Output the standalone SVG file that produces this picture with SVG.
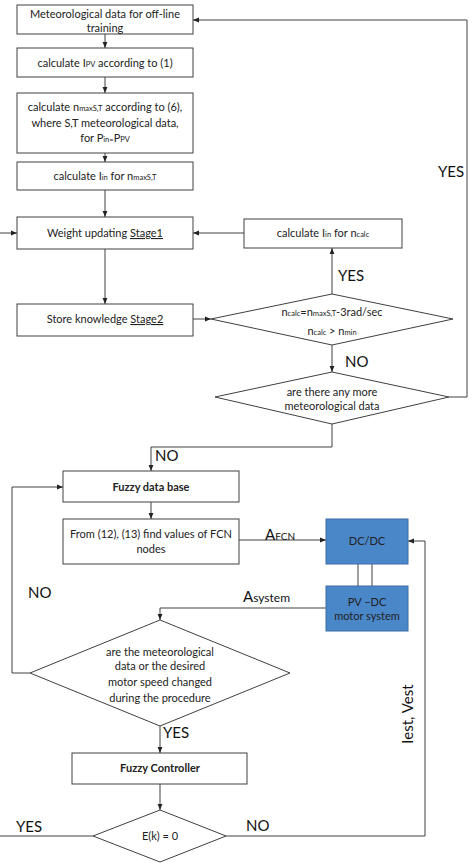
<svg xmlns="http://www.w3.org/2000/svg" width="474" height="863" viewBox="0 0 474 863">
<style>
.box{fill:#fff;stroke:#404040;stroke-width:1}
.blue{fill:#4a87c9;stroke:#3b6fa6;stroke-width:1}
.t{font-family:Lato,'Liberation Sans',sans-serif;font-size:11px;fill:#222;text-anchor:middle}
.b{font-weight:bold}
.s{font-size:7.5px}
.u{text-decoration:underline}
.lbl{font-family:Lato,'Liberation Sans',sans-serif;font-size:15px;fill:#111}
.ln{fill:none;stroke:#404040;stroke-width:1}
.ar{marker-end:url(#ah)}
</style>
<defs>
<marker id="ah" viewBox="0 0 10 10" refX="10" refY="5" markerWidth="6" markerHeight="6" orient="auto" markerUnits="userSpaceOnUse"><path d="M0,1 L10,5 L0,9 z" fill="#222"/></marker>
</defs>
<rect width="474" height="863" fill="#fff"/>
<g id="connectors">
<path class="ln ar" d="M105,34 V48"/>
<path class="ln ar" d="M105,77 V93"/>
<path class="ln ar" d="M105,153 V162"/>
<path class="ln ar" d="M105,190 V217"/>
<path class="ln ar" d="M0,233 H17"/>
<path class="ln ar" d="M105,249 V304"/>
<path class="ln ar" d="M244,233 H193"/>
<path class="ln ar" d="M193,319 H211"/>
<path class="ln ar" d="M332,294 V248"/>
<path class="ln ar" d="M332,345 V372"/>
<path class="ln ar" d="M449,397 H467 V20 H193"/>
<path class="ln ar" d="M332,424 V447 H151 V471"/>
<path class="ln ar" d="M151,502 V519"/>
<path class="ln ar" d="M239,540 H326"/>
<path class="ln" d="M358,564 V586 M372,564 V586"/>
<path class="ln ar" d="M326,608 H160 V620"/>
<path class="ln ar" d="M30,673 H12 V487 H63"/>
<path class="ln ar" d="M160,726 V753"/>
<path class="ln ar" d="M160,784 V810"/>
<path class="ln" d="M93,836 H0"/>
<path class="ln ar" d="M226,836 H425 V541 H408"/>
<text class="lbl" x="438" y="177">YES</text>
<text class="lbl" x="338" y="281">YES</text>
<text class="lbl" x="345" y="367">NO</text>
<text class="lbl" x="155" y="461">NO</text>
<text class="lbl" x="265" y="540">A<tspan font-size="10">FCN</tspan></text>
<text class="lbl" x="28" y="598">NO</text>
<text class="lbl" x="243" y="602">A<tspan font-size="12">system</tspan></text>
<text class="lbl" x="163" y="738">YES</text>
<text class="lbl" x="16" y="832">YES</text>
<text class="lbl" x="246" y="831">NO</text>
<text class="lbl" text-anchor="middle" transform="translate(413 714) rotate(-90)">Iest, Vest</text>
</g>
<g id="n1"><rect class="box" x="17" y="5" width="176" height="29"/><text class="t" x="105" y="18">Meteorological data for off-line</text><text class="t" x="105" y="32">training</text></g>
<g id="n2"><rect class="box" x="17" y="48" width="176" height="29"/><text class="t" x="105" y="67">calculate I<tspan class="s">PV</tspan> according to (1)</text></g>
<g id="n3"><rect class="box" x="17" y="93" width="176" height="60"/><text class="t" x="105" y="111">calculate n<tspan class="s">maxS,T</tspan> according to (6),</text><text class="t" x="105" y="127">where S,T meteorological data,</text><text class="t" x="105" y="142">for P<tspan class="s">in=</tspan>P<tspan class="s">PV</tspan></text></g>
<g id="n4"><rect class="box" x="17" y="162" width="176" height="28"/><text class="t" x="105" y="180">calculate I<tspan class="s">in</tspan> for n<tspan class="s">maxS,T</tspan></text></g>
<g id="n5"><rect class="box" x="17" y="217" width="176" height="32"/><text class="t" x="105" y="237">Weight updating <tspan class="u">Stage1</tspan></text></g>
<g id="n6"><rect class="box" x="244" y="219" width="158" height="29"/><text class="t" x="323" y="237">calculate I<tspan class="s">in</tspan> for n<tspan class="s">calc</tspan></text></g>
<g id="n7"><rect class="box" x="17" y="304" width="176" height="32"/><text class="t" x="105" y="323">Store knowledge <tspan class="u">Stage2</tspan></text></g>
<g id="n8"><polygon class="box" points="211,319 332,294 453,319 332,345"/><text class="t" x="332" y="316">n<tspan class="s">calc</tspan>=n<tspan class="s">maxS,T</tspan>-3rad/sec</text><text class="t" x="332" y="335">n<tspan class="s">calc</tspan> &gt; n<tspan class="s">min</tspan></text></g>
<g id="n9"><polygon class="box" points="215,397 332,372 449,397 332,424"/><text class="t" x="332" y="396">are there any more</text><text class="t" x="332" y="410">meteorological data</text></g>
<g id="n10"><rect class="box" x="63" y="471" width="176" height="31"/><text class="t b" x="151" y="491">Fuzzy data base</text></g>
<g id="n11"><rect class="box" x="63" y="519" width="176" height="45"/><text class="t" x="151" y="538">From  (12), (13) find values of FCN</text><text class="t" x="151" y="553">nodes</text></g>
<g id="n12"><rect class="blue" x="326" y="519" width="82" height="45"/><text class="t" x="367" y="545">DC/DC</text></g>
<g id="n13"><rect class="blue" x="326" y="586" width="82" height="45"/><text class="t" x="367" y="606">PV –DC</text><text class="t" x="367" y="620">motor  system</text></g>
<g id="n14"><polygon class="box" points="30,673 160,620 290,673 160,726"/><text class="t" x="160" y="656">are the meteorological</text><text class="t" x="160" y="670">data or the desired</text><text class="t" x="160" y="686">motor  speed changed</text><text class="t" x="160" y="702">during the  procedure</text></g>
<g id="n15"><rect class="box" x="72" y="753" width="175" height="31"/><text class="t b" x="160" y="772">Fuzzy Controller</text></g>
<g id="n16"><polygon class="box" points="93,836 160,810 226,836 160,862"/><text class="t" x="160" y="840" font-size="9">E(k) = 0</text></g>
</svg>
